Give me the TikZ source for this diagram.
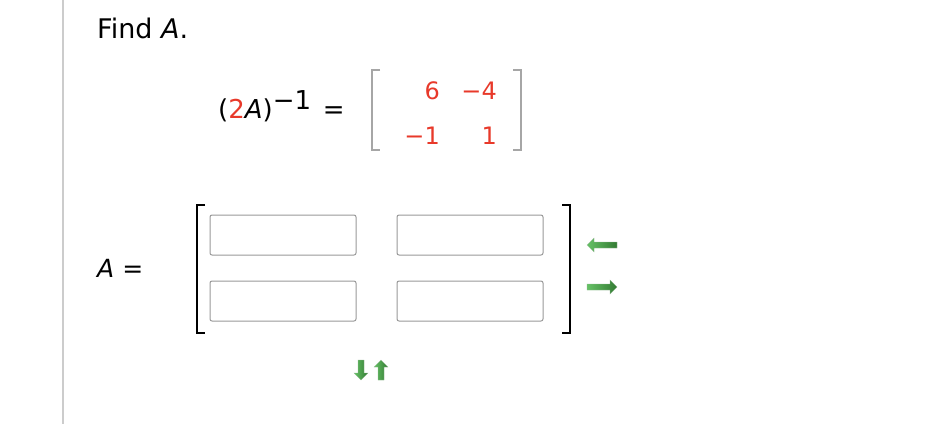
\documentclass[tikz,border=0pt]{standalone}
\usepackage{fontspec}
\setmainfont{DejaVu Sans}
\definecolor{qred}{HTML}{E8392A}
\begin{document}
\begin{tikzpicture}[x=1pt,y=-1pt,
  cell/.style={draw=gray!80,rounded corners=2pt,line width=1pt,minimum width=146pt,minimum height=40pt},
  red/.style={text=qred,font=\fontsize{24}{24}\selectfont},
  brk/.style={line width=1.6pt},
  garrow/.style={left color=green!60!black!60,right color=green!35!black!80,draw=green!30!black!40,line width=0.3pt}]
\useasboundingbox (0,0) rectangle (952,424);
\fill[white] (0,0) rectangle (952,424);
\draw[gray!40,line width=1.2pt] (63,0) -- (63,424);
\node[anchor=base west,font=\fontsize{27}{27}\selectfont,inner sep=0pt] (find) at (97,38) {Find \textit{A}.};
\node[anchor=base west,font=\fontsize{26}{26}\selectfont,inner sep=0pt] (lhs) at (218,118) {(\textcolor{qred}{2}\textit{A})\raisebox{9pt}{−1}\hspace{0.45em}=};
\draw[brk,gray!70] (380,70) -- (372,70) -- (372,150) -- (380,150);
\draw[brk,gray!70] (513,70) -- (521,70) -- (521,150) -- (513,150);
\node[red,anchor=base east,inner sep=0pt] (a11) at (440,99) {6};
\node[red,anchor=base east,inner sep=0pt] (a12) at (497,99) {−4};
\node[red,anchor=base east,inner sep=0pt] (a21) at (440,144) {−1};
\node[red,anchor=base east,inner sep=0pt] (a22) at (497,144) {1};
\node[anchor=base west,font=\fontsize{25}{25}\selectfont,inner sep=0pt] (Aeq) at (97,277) {\textit{A} =};
\draw[brk,black] (205,205) -- (197,205) -- (197,333) -- (205,333);
\draw[brk,black] (562,205) -- (570,205) -- (570,333) -- (562,333);
\node[cell] (b11) at (283,235) {};
\node[cell] (b12) at (470,235) {};
\node[cell] (b21) at (283,301) {};
\node[cell] (b22) at (470,301) {};
\shade[garrow] (587,245) -- (594,238) -- (594,242) -- (617,242) -- (617,248) -- (594,248) -- (594,252) -- cycle;
\shade[garrow] (617,287) -- (610,280) -- (610,284) -- (587,284) -- (587,290) -- (610,290) -- (610,294) -- cycle;
\shade[garrow] (361,380) -- (354,373) -- (358,373) -- (358,360) -- (364,360) -- (364,373) -- (368,373) -- cycle;
\shade[garrow] (381,360) -- (374,367) -- (378,367) -- (378,380) -- (384,380) -- (384,367) -- (388,367) -- cycle;
\end{tikzpicture}
\end{document}
